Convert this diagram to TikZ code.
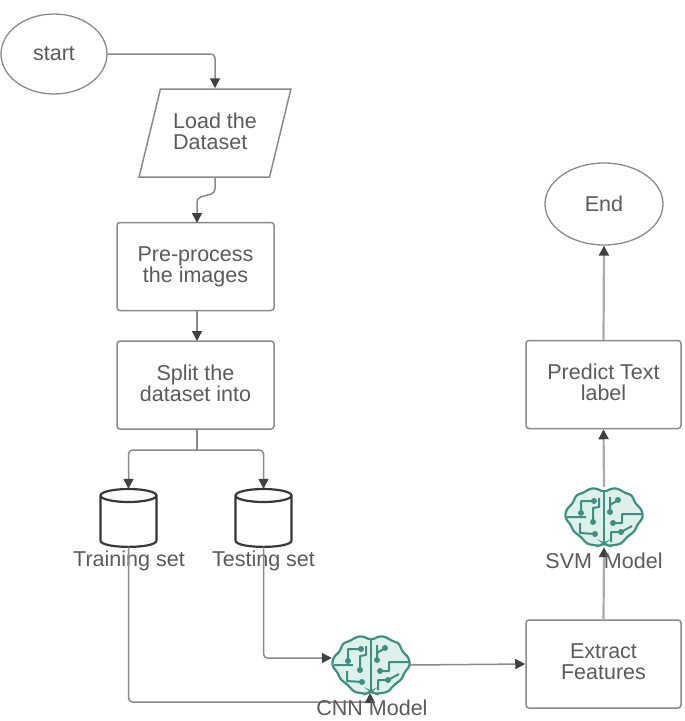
\documentclass[tikz,border=0pt]{standalone}
\usepackage{fontspec}
\setmainfont{Liberation Sans}
\usetikzlibrary{arrows.meta,shapes.geometric}
\definecolor{txt}{HTML}{5A5A5A}
\definecolor{edge}{HTML}{8A8A8A}
\definecolor{lightedge}{HTML}{ABABAB}
\definecolor{tealline}{HTML}{3F8F81}
\definecolor{tealfill}{HTML}{DDF0EC}
\newcommand\liftup[1]{\rule[-#1]{0pt}{#1}}
\tikzset{
  x=1pt,y=-1pt,
  every node/.style={text=txt,font=\fontsize{21.5}{21}\selectfont,align=center,inner sep=0pt},
  termnode/.style={draw=edge,line width=1.3pt,ellipse,inner sep=0pt},
  procnode/.style={draw=edge,line width=1.5pt,rounded corners=3pt,minimum width=155pt,minimum height=88pt},
  ionode/.style={draw=edge,line width=1.5pt,trapezium,trapezium left angle=68,trapezium right angle=112,trapezium stretches=true,minimum width=152pt,minimum height=88pt},
  dbbox/.style={minimum width=57pt,minimum height=58pt},
  brainbox/.style={minimum width=78pt,minimum height=60pt},
  flow/.style={draw=edge,line width=1.5pt,rounded corners=4pt,-{Triangle[length=10pt,width=10pt,color=black!75]}},
  flowlight/.style={flow,draw=lightedge,line width=2.2pt},
  plain/.style={draw=edge,line width=1.5pt,rounded corners=4pt},
  dbicon/.pic={
    \draw[black!78,line width=2.2pt,line join=round]
      (-28,-22.5)--(-28,22.5) .. controls (-28,31) and (28,31) .. (28,22.5)--(28,-22.5)
      (0,-22.5) ellipse [x radius=28pt,y radius=6.5pt];
  },
  brainicon/.pic={
    \draw[tealline,line width=2.2pt,fill=tealfill,rounded corners=3pt]
      (0,-25)--(-9,-29)--(-15,-28)--(-21,-24)--(-28,-22)--(-31,-14)--(-38,-7)--(-39,1)--(-33,8)--(-31,14)--(-23,20)--(-17,27)--(-4,29)--(0,26)
      --(4,29)--(17,27)--(23,20)--(31,14)--(33,8)--(39,1)--(38,-7)--(31,-14)--(28,-22)--(21,-24)--(15,-28)--(9,-29)--cycle;
    \draw[tealline,line width=2.2pt] (0,-25)--(0,26);
    \draw[tealline,line width=2pt,line join=round]
      (-10,-16)--(-23,-16)--(-23,-4)
      (-5,-19)--(-5,-10)--(-11,-9)--(-11,5)
      (-37,0)--(-18,0)
      (-24,6)--(-24,16)--(-9,17)
      (6,-20)--(6,-5)
      (6,-12)--(14,-17)
      (9,6)--(18,6)--(18,-3)--(38,-3)
      (7,25)--(7,15)--(17,15)--(28,9);
    \fill[tealline] (-10,-16) circle (3) (-23,-4) circle (3) (-11,5) circle (3) (-9,17) circle (3) (6,-5) circle (3) (14,-17) circle (3) (9,6) circle (3) (17,15) circle (3);
  }
}
\begin{document}
\begin{tikzpicture}
\useasboundingbox (0,0) rectangle (685,721);
% nodes
\node[termnode,minimum width=106pt,minimum height=80pt] (start) at (54,54) {start};
\node[ionode,align=left] (load) at (215,133) {Load the\liftup{0pt}\\Dataset\liftup{4pt}};
\node[procnode,minimum width=157pt] (pre) at (195.5,266.5) {Pre-process\\the images};
\node[procnode,minimum width=157pt] (split) at (195.5,385) {Split the\\dataset into\liftup{4pt}};
\node[dbbox] (train) at (128.5,518) {};
\node[dbbox] (test) at (263.5,518) {};
\node (trainlabel) at (129,561) {Training set};
\node (testlabel) at (263.5,561) {Testing set};
\node[brainbox] (cnn) at (371,665) {};
\node[brainbox] (svm) at (604,517) {};
\node[procnode] (extract) at (603.5,664) {Extract\\Features\liftup{4pt}};
\node[procnode] (predict) at (603.5,384.5) {Predict Text\\label\liftup{4pt}};
\node[termnode,minimum width=118pt,minimum height=82pt] (end) at (604,204) {End};
\coordinate (splitfork) at (197,450);
\coordinate (cnnturn) at (370,702);
\coordinate (cnnin) at (370,693);
\coordinate (prein) at (197,223);
\coordinate (preout) at (197,310);
\coordinate (splitin) at (197,341);
\coordinate (splitout) at (197,429);
% icons
\pic at (128.5,518) {dbicon};
\pic at (263.5,518) {dbicon};
\pic at (371,665) {brainicon};
\pic at (604,517) {brainicon};
% connectors
\draw[flow] (start.east) -| (load.north);
\draw[flow] (load.south) -- (215,193) -- (197,198) -- (prein);
\draw[flow] (preout) -- (splitin);
\draw[plain] (splitout) -- (splitfork);
\draw[flow] (splitfork) -| (train.north);
\draw[flow] (splitfork) -| (test.north);
\draw[flow] (test.south) |- ([yshift=7pt]cnn.west);
\draw[plain] (train.south) |- (cnnturn);
\draw[flow,rounded corners=0pt] (cnnturn) -- (cnnin);
\draw[flow] (cnn.east) -- (extract.west);
\draw[flowlight] (extract.north) -- (svm.south);
\draw[flowlight] (svm.north) -- (predict.south);
\draw[flowlight] (predict.north) -- (end.south);
\node (cnnlabel) at (372,708) {CNN Model};
\node (svmlabel) at (604,561) {SVM\ \ Model};
\end{tikzpicture}
\end{document}
